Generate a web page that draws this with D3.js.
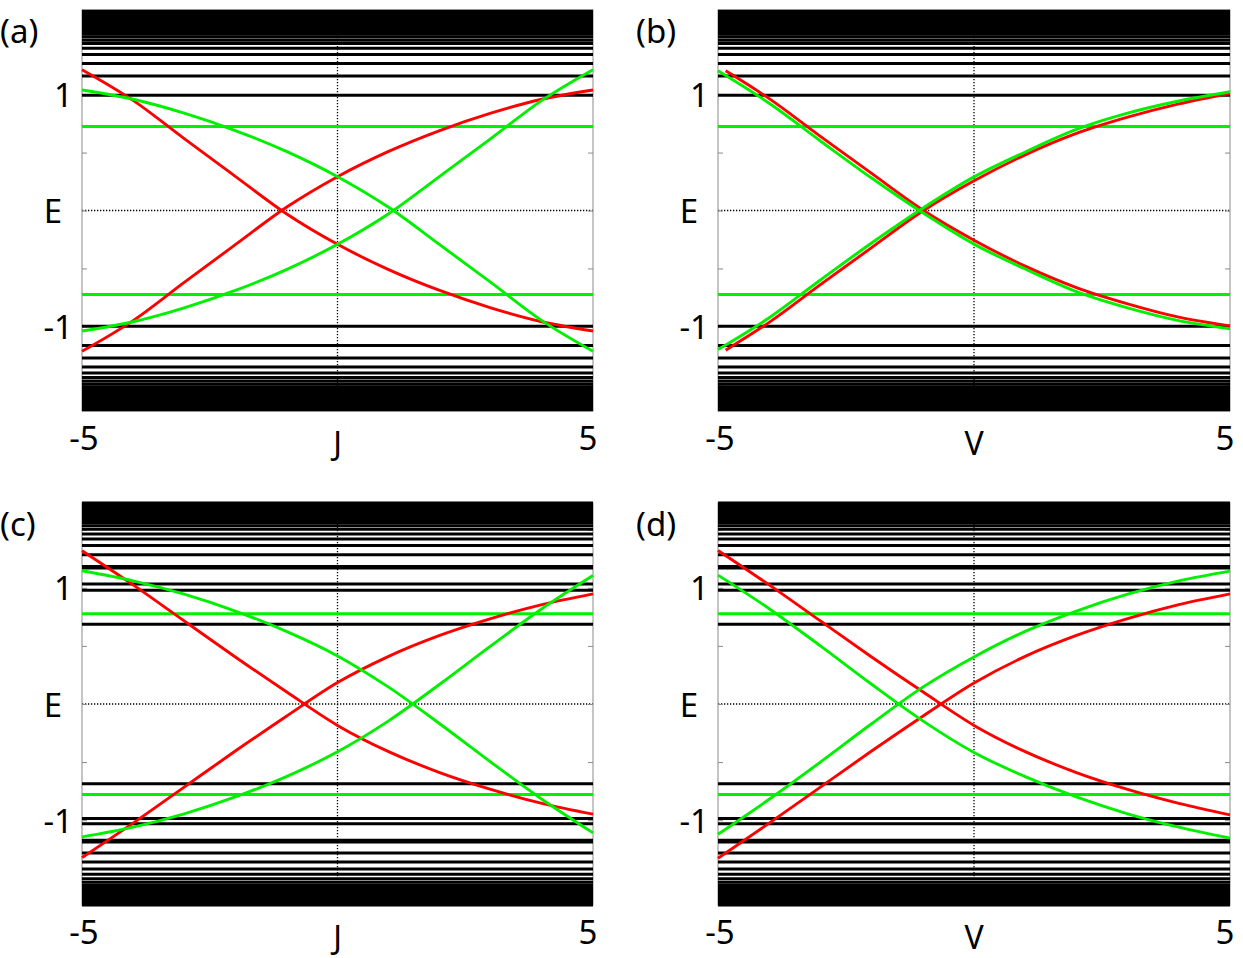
<!DOCTYPE html>
<html>
<head>
<meta charset="utf-8">
<script src="https://cdn.jsdelivr.net/npm/d3@7"></script>
<style>
  body { margin: 0; background: #fff; }
  svg { display: block; font-family: "Noto Sans", "Open Sans", sans-serif; }
</style>
</head>
<body>
<svg id="chart" width="1243" height="958"></svg>
<script>
// sample points along the x axis (J or V)
const xs = [-5, -4, -3, -2, -1, 0, 1, 2, 3, 4, 5];
const xsRedB = [-4.85, -4, -3, -2, -1, 0, 1, 2, 3, 4, 5];

// (a) E vs J
const aRedUp = [-1.215, -0.95, -0.62, -0.295, 0.028, 0.292, 0.51, 0.69, 0.84, 0.96, 1.04];
const aRedDown = [1.215, 0.95, 0.62, 0.295, -0.028, -0.292, -0.51, -0.69, -0.84, -0.96, -1.04];
const aGreenUp = [-1.04, -0.96, -0.84, -0.69, -0.51, -0.292, -0.028, 0.295, 0.62, 0.95, 1.215];
const aGreenDown = [1.04, 0.96, 0.84, 0.69, 0.51, 0.292, 0.028, -0.295, -0.62, -0.95, -1.215];

// (b) E vs V
const bRedUp = [-1.205, -0.965, -0.64, -0.32, -0.005, 0.256, 0.48, 0.665, 0.805, 0.92, 1.01];
const bRedDown = [1.205, 0.965, 0.64, 0.32, 0.005, -0.256, -0.48, -0.665, -0.805, -0.92, -0.995];
const bGreenUp = [-1.2, -0.925, -0.6, -0.28, 0.02, 0.29, 0.505, 0.7, 0.84, 0.945, 1.025];
const bGreenDown = [1.205, 0.925, 0.6, 0.28, -0.02, -0.29, -0.505, -0.7, -0.84, -0.95, -1.02];

// (c) E vs J
const cRedUp = [-1.322, -1.025, -0.715, -0.405, -0.105, 0.184, 0.41, 0.59, 0.735, 0.855, 0.948];
const cRedDown = [1.319, 1.025, 0.715, 0.405, 0.105, -0.184, -0.41, -0.59, -0.735, -0.855, -0.948];
const cGreenUp = [-1.144, -1.06, -0.945, -0.8, -0.625, -0.411, -0.145, 0.17, 0.5, 0.82, 1.106];
const cGreenDown = [1.147, 1.06, 0.945, 0.8, 0.625, 0.414, 0.145, -0.17, -0.5, -0.82, -1.109];

// (d) E vs V
const dRedUp = [-1.328, -1.025, -0.715, -0.405, -0.105, 0.181, 0.41, 0.59, 0.735, 0.855, 0.948];
const dRedDown = [1.322, 1.025, 0.715, 0.405, 0.105, -0.184, -0.41, -0.59, -0.735, -0.855, -0.954];
const dGreenUp = [-1.121, -0.82, -0.5, -0.17, 0.145, 0.405, 0.625, 0.8, 0.945, 1.06, 1.144];
const dGreenDown = [1.109, 0.82, 0.5, 0.17, -0.145, -0.417, -0.625, -0.8, -0.945, -1.06, -1.155];

// flat levels
const greenLevelsAB = [0.724, -0.725];
const greenLevelsCD = [0.777, -0.78];

const bandTopAB = [0.995, 1.16, 1.268, 1.345, 1.4, 1.44, 1.47, 1.496, 1.52, 1.54, 1.558, 1.575, 1.59, 1.603,
  1.615, 1.626, 1.636, 1.645, 1.654, 1.662, 1.669, 1.676, 1.682, 1.688, 1.693, 1.698, 1.702, 1.706,
  1.709, 1.712, 1.715, 1.718, 1.72];
const bandBottomAB = [-0.998, -1.165, -1.272, -1.35, -1.402, -1.442, -1.472, -1.498, -1.52, -1.54, -1.558,
  -1.575, -1.59, -1.603, -1.615, -1.626, -1.636, -1.645, -1.654, -1.662, -1.669, -1.676, -1.682, -1.688,
  -1.693, -1.698, -1.702, -1.706, -1.709, -1.712, -1.715, -1.718, -1.72];
const bandTopCD = [0.687, 0.98, 1.032, 1.17, 1.184, 1.284, 1.365, 1.42, 1.463, 1.505, 1.535, 1.56, 1.58,
  1.598, 1.614, 1.628, 1.641, 1.653, 1.664, 1.674, 1.683, 1.691, 1.698, 1.704, 1.71, 1.715, 1.719,
  1.723, 1.726, 1.729];
const bandBottomCD = [-0.686, -0.985, -1.03, -1.172, -1.187, -1.282, -1.36, -1.42, -1.466, -1.505, -1.535,
  -1.56, -1.58, -1.598, -1.614, -1.628, -1.641, -1.653, -1.664, -1.674, -1.683, -1.691, -1.698, -1.704,
  -1.71, -1.715, -1.719, -1.723, -1.726, -1.729];

// ticks
const yTicks = [-1.5, -1, -0.5, 0, 0.5, 1, 1.5];
const yTickLabels = [{ v: 1, t: "1" }, { v: -1, t: "-1" }];
const xTickLabels = [{ v: -5, t: "-5" }, { v: 5, t: "5" }];

const svg = d3.select("#chart");

const panels = [
  { tag: "(a)", tagX: 0, name: "J", x0: 82, x1: 593, y0: 10, y1: 411,
    band: bandTopAB.concat(bandBottomAB), flat: greenLevelsAB,
    red: [[xs, aRedUp], [xs, aRedDown]], green: [[xs, aGreenUp], [xs, aGreenDown]] },
  { tag: "(b)", tagX: 636, name: "V", x0: 718, x1: 1230, y0: 10, y1: 411,
    band: bandTopAB.concat(bandBottomAB), flat: greenLevelsAB,
    red: [[xsRedB, bRedUp], [xsRedB, bRedDown]], green: [[xs, bGreenUp], [xs, bGreenDown]] },
  { tag: "(c)", tagX: 0, name: "J", x0: 82, x1: 593, y0: 503, y1: 905,
    band: bandTopCD.concat(bandBottomCD), flat: greenLevelsCD,
    red: [[xs, cRedUp], [xs, cRedDown]], green: [[xs, cGreenUp], [xs, cGreenDown]] },
  { tag: "(d)", tagX: 636, name: "V", x0: 718, x1: 1230, y0: 503, y1: 905,
    band: bandTopCD.concat(bandBottomCD), flat: greenLevelsCD,
    red: [[xs, dRedUp], [xs, dRedDown]], green: [[xs, dGreenUp], [xs, dGreenDown]] }
];

function draw_panel(p) {
  const x = d3.scaleLinear().domain([-5, 5]).range([p.x0, p.x1]);
  const y = d3.scaleLinear().domain([-1.73, 1.73]).range([p.y1, p.y0]);
  const g = svg.append("g");

  // dotted zero lines
  g.append("line")
    .attr("x1", x(0)).attr("x2", x(0)).attr("y1", p.y0).attr("y2", p.y1)
    .attr("stroke", "#000").attr("stroke-width", 1.3).attr("stroke-dasharray", "1.3,1.7");
  g.append("line")
    .attr("x1", p.x0).attr("x2", p.x1).attr("y1", y(0)).attr("y2", y(0))
    .attr("stroke", "#000").attr("stroke-width", 1.3).attr("stroke-dasharray", "1.3,1.7");

  // frame + inward ticks
  g.append("rect")
    .attr("x", p.x0).attr("y", p.y0).attr("width", p.x1 - p.x0).attr("height", p.y1 - p.y0)
    .attr("fill", "none").attr("stroke", "#8a8a8a").attr("stroke-width", 1);
  g.append("g")
    .attr("transform", `translate(${p.x0},0)`)
    .call(d3.axisRight(y).tickValues(yTicks).tickSize(5).tickFormat(""))
    .call(a => a.select(".domain").remove())
    .selectAll("line").attr("stroke", "#8a8a8a");
  g.append("g")
    .attr("transform", `translate(${p.x1},0)`)
    .call(d3.axisLeft(y).tickValues(yTicks).tickSize(5).tickFormat(""))
    .call(a => a.select(".domain").remove())
    .selectAll("line").attr("stroke", "#8a8a8a");

  // bulk levels
  g.selectAll(".band")
    .data(p.band)
    .enter().append("line")
    .attr("x1", p.x0).attr("x2", p.x1)
    .attr("y1", d => y(d)).attr("y2", d => y(d))
    .attr("stroke", "#000").attr("stroke-width", 3);

  // flat green levels
  g.selectAll(".flat")
    .data(p.flat)
    .enter().append("line")
    .attr("x1", p.x0).attr("x2", p.x1)
    .attr("y1", d => y(d)).attr("y2", d => y(d))
    .attr("stroke", "#00f000").attr("stroke-width", 3);

  const line = d3.line()
    .x(d => x(d[0]))
    .y(d => y(d[1]))
    .curve(d3.curveMonotoneX);

  p.red.forEach(([xv, ev]) => {
    g.append("path")
      .datum(d3.zip(xv, ev))
      .attr("fill", "none").attr("stroke", "#ff0000").attr("stroke-width", 2.9)
      .attr("d", line);
  });
  p.green.forEach(([xv, ev]) => {
    g.append("path")
      .datum(d3.zip(xv, ev))
      .attr("fill", "none").attr("stroke", "#00f000").attr("stroke-width", 2.9)
      .attr("d", line);
  });

  // labels
  g.append("text")
    .attr("x", p.tagX).attr("y", p.y0 + 20)
    .attr("dominant-baseline", "central")
    .style("font-size", "33px")
    .text(p.tag);

  g.selectAll(".ylab")
    .data(yTickLabels)
    .enter().append("text")
    .attr("x", p.x0 - 9).attr("y", d => y(d.v))
    .attr("text-anchor", "end").attr("dominant-baseline", "central")
    .style("font-size", "33px")
    .text(d => d.t);
  g.append("text")
    .attr("x", p.x0 - 29).attr("y", y(0))
    .attr("text-anchor", "middle").attr("dominant-baseline", "central")
    .style("font-size", "33px")
    .text("E");

  g.selectAll(".xlab")
    .data(xTickLabels)
    .enter().append("text")
    .attr("x", d => x(d.v) + (d.v < 0 ? 2 : -5)).attr("y", p.y1 + 26)
    .attr("text-anchor", "middle").attr("dominant-baseline", "central")
    .style("font-size", "33px")
    .text(d => d.t);
  g.append("text")
    .attr("x", x(0)).attr("y", p.y1 + 31)
    .attr("text-anchor", "middle").attr("dominant-baseline", "central")
    .style("font-size", "32px")
    .text(p.name);
}

panels.forEach(draw_panel);
</script>
</body>
</html>
